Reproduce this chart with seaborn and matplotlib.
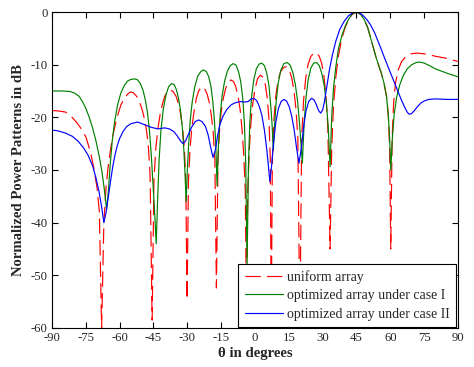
import numpy as np
import pandas as pd
import matplotlib
matplotlib.use("Agg")
import matplotlib.pyplot as plt
import seaborn as sns

# values (theta in degrees, pattern in dB)
uniform_theta = [-90, -87, -84, -81.5, -79, -77, -75, -73, -71.5, -70, -69, -68, -67, -66, -65, -64, -63,
                 -62, -61, -59.5, -58, -56.5, -55.3, -54, -52.5, -51, -50, -49, -48, -47.2, -46.5, -45.6,
                 -44.8, -44, -43, -42, -41, -40, -39, -37.6, -36.3, -35, -34, -33, -32, -31.3, -30.7,
                 -30.1, -29.5, -28.8, -28, -27, -26, -25, -23.7, -22.4, -21.2, -20.2, -19.3, -18.5,
                 -17.8, -17.1, -16.4, -15.7, -15, -14, -13, -12, -10.7, -9.5, -8.5, -7.5, -6.6, -5.8,
                 -5, -4.3, -3.8, -3.2, -2.5, -1.8, -1, 0, 1.2, 2.4, 3.6, 4.6, 5.5, 6.2, 6.8, 7.2, 7.7,
                 8.3, 9.2, 10.3, 11.5, 12.8, 14.0, 15.2, 16.3, 17.3, 18.2, 19.0, 19.9, 20.7, 21.5, 22.5,
                 23.5, 24.7, 26, 27.3, 28.5, 29.6, 30.6, 31.5, 32.3, 33.3, 34, 34.8, 35.8, 37, 38.5, 40,
                 41.5, 43, 45, 47, 48.5, 50, 51.3, 52.6, 53.8, 55, 56, 57.2, 58.3, 59.1, 59.7, 60.2,
                 60.8, 61.5, 62.3, 63.5, 65, 67, 69.5, 72, 76, 80, 85, 90]
uniform_db = [-18.7, -18.8, -19.0, -19.8, -21.0, -22.2, -23.7, -26.5, -29.5, -33.5, -38, -60, -40, -33, -29, -26, -23.5,
              -21.5, -19.8, -17.7, -16.4, -15.6, -15.2, -15.3, -16.0, -17.3, -18.6, -20.3, -22.8, -26, -31, -58.5,
              -32, -26, -22, -19.3, -17.4, -16.0, -15.2, -14.8, -15.1, -16.0, -17.3, -19.3, -22.5, -26, -32,
              -54.6, -32, -26, -22, -18.8, -16.4, -15.0, -14.2, -14.5, -15.6, -17.3, -19.8, -23,
              -28, -52.4, -28, -22.5, -19, -16.3, -14.5, -13.5, -12.9, -13.2, -14.2, -16, -18.5, -22,
              -27, -34, -58, -34, -26, -21, -17.5, -14.6, -12.6, -12.0, -12.4, -13.8, -16.5, -20.5, -28, -60, -28,
              -21, -16, -12.8, -11.2, -10.5, -10.4, -11.0, -12.5, -15, -18.5, -24, -60, -24, -17, -12.5,
              -10, -8.5, -7.8, -7.8, -8.4, -9.8, -12.3, -16, -22, -45, -26, -18, -12.5, -8.3, -5.0, -2.9,
              -1.5, -0.5, 0, -0.5, -1.5, -3, -5, -7, -8.8, -10.3, -11.6, -13.5, -16, -19.5, -26, -45,
              -24, -17, -13.5, -11, -9.4, -8.4, -7.9, -7.8, -8.0, -8.4, -8.8, -9.4]

case1_theta = [-90, -85, -82, -80, -78, -76.5, -75, -73.5, -72, -70.5, -69, -67.8, -66.7, -65.8, -65, -64.2,
               -63.3, -62.3, -61, -59.5, -58, -56.5, -55, -53.3, -52, -50.8, -49.7, -48.7, -47.7, -46.8,
               -46, -45.2, -44.5, -43.8, -43.2, -42.5, -41.7, -40.7, -39.5, -38.3, -37, -35.8, -34.8,
               -33.8, -33, -32.2, -31.5, -31, -30.5, -30, -29.4, -28.7, -27.8, -26.7, -25.4, -24, -22.8,
               -21.6, -20.5, -19.5, -18.7, -18, -17.4, -16.8, -16.2, -15.5, -14.6, -13.5, -12.3, -11,
               -9.7, -8.4, -7.3, -6.3, -5.4, -4.7, -4.1, -3.5, -2.9, -2.3, -1.5, -0.5, 0.6, 1.8, 3, 4.2,
               5.2, 6.2, 7, 7.6, 8.1, 8.7, 9.4, 10.3, 11.4, 12.8, 14.3, 15.6, 16.8, 17.9, 18.9, 19.8, 21,
               21.8, 22.6, 23.6, 24.8, 26, 27.3, 28.5, 29.6, 30.7, 31.7, 32.5, 33.3, 34, 34.8, 35.8, 37,
               38.5, 40, 41.5, 43, 45, 47, 48.5, 50, 51.3, 52.6, 53.8, 55, 56, 57.2, 58.3, 59.1, 59.7,
               60.2, 60.9, 61.7, 62.8, 64.2, 65.8, 67.5, 69.5, 71.5, 73, 75, 77.5, 80, 85, 90]
case1_db = [-15.0, -15.0, -15.1, -15.4, -16.0, -17.0, -18.3, -20, -22, -24.5, -27.5, -30.5, -34, -37.5, -34, -29,
            -24.5, -21, -17.8, -15.4, -14, -13.1, -12.8, -12.7, -12.9, -13.6, -14.8, -16.5, -19, -22.5,
            -27, -33, -38, -44, -36, -28, -22.5, -18.6, -15.8, -14.2, -13.6, -13.8, -14.8,
            -16.6, -18.8, -22, -26.5, -31, -36, -30, -25, -20.5, -17, -14.2, -12.2, -11.3, -11.0,
            -11.3, -12.3, -14.2, -17, -20.5, -25, -33, -25, -20, -16, -13.2, -11.3, -10.2,
            -9.8, -10.1, -11.3, -13.3, -16.5, -21, -29, -48, -29, -21, -16, -12.8, -10.8, -9.9, -9.7, -10.2,
            -11.6, -14, -17.8, -21.5, -26.2, -21.5, -17, -13.5, -11.1, -9.8, -9.6, -10.1, -11.5, -13.8, -17, -21.5, -28.7,
            -21, -16.3, -12.8, -10.6, -9.7, -9.6, -10.2, -11.6, -14, -17.5, -22, -29.4, -20, -14.5, -10.5, -7,
            -4.5, -2.7, -1.4, -0.4, 0, -0.5, -1.5, -3, -5, -7, -8.8, -10.3, -11.6, -13.5, -16, -19.5, -24,
            -30, -24, -19.5, -16.2, -13.8, -12, -10.8, -10, -9.6, -9.5, -9.7, -10.2, -10.8, -11.6, -12.3]

case2_theta = [-90, -87, -84, -81, -78.5, -76, -74, -72, -70.5, -69.2, -68, -67, -66, -65, -64, -63, -62,
               -61, -60, -58.5, -57, -55, -52, -49, -46, -43, -40, -38, -36, -34.5, -33, -31.9, -30.8,
               -29.5, -28, -26.5, -25, -23.5, -22, -20.8, -19.6, -18.6, -17.6, -16.6, -15.5, -14.2, -12.5,
               -10.5, -8.5, -6.4, -4.5, -3, -1.7, -0.5, 0.7, 1.8, 3, 4.2, 5.2, 6, 6.6, 7.3, 8.2, 9.2,
               10.4, 11.6, 12.8, 14, 15.2, 16.3, 17.4, 18.5, 19.5, 20.5, 21.5, 22.6, 23.8, 25.1, 26.2,
               27.2, 28.2, 29.1, 30, 30.8, 31.8, 33, 34.3, 35.8, 37.5, 39.5, 41.5, 43.5, 45, 46.5, 48,
               49.7, 51.3, 53, 54.5, 56, 57.5, 59, 60.5, 62, 63.5, 65, 66.5, 67.6, 68.4, 69.4, 70.5, 72,
               73.5, 75, 77, 80, 85, 90]
case2_db = [-22.4, -22.6, -23.0, -23.6, -24.5, -25.8, -27.2, -29.2, -31.5, -34, -37, -40, -38, -35, -32, -29.2, -27,
            -25.3, -24, -22.7, -21.8, -21.2, -20.9, -21.4, -21.9, -22.2, -22.0, -22.2, -22.7, -23.5, -24.5, -25, -24.5,
            -23.2, -21.8, -20.8, -20.5, -20.8, -21.7, -23.3, -25.8, -27.6, -26.3, -23.5, -21.3, -19.8, -18.5,
            -17.6, -17.2, -17.0, -17.1, -17.0, -16.5, -16.4, -16.8, -17.8, -19.5, -22.5, -26, -29.5, -32.2, -29.5, -25, -21,
            -18.3, -17, -16.6, -16.9, -18, -19.8, -22.5, -26, -28.7, -26, -22, -18.8, -17, -16.4, -16.7,
            -17.6, -18.7, -19.2, -18.6, -17, -14.3, -11, -8.2, -5.6, -3.4, -1.8, -0.7, -0.1, 0, -0.2, -0.7,
            -1.5, -2.5, -3.9, -5.5, -7.1, -8.8, -10.4, -12, -13.6, -15.2, -16.8, -18.2, -19.1, -19.4, -19.3, -18.8, -18,
            -17.3, -16.9, -16.6, -16.5, -16.6, -16.6]

labels = ["uniform array", "optimized array under case I", "optimized array under case II"]
x_ticks = list(range(-90, 91, 15))
y_ticks = list(range(-60, 1, 10))

sns.set_theme(style="ticks")
plt.rcParams["font.family"] = ["Liberation Serif", "DejaVu Serif"]
plt.rcParams["axes.unicode_minus"] = False
plt.rcParams["lines.scale_dashes"] = False
plt.rcParams["xtick.direction"] = "in"
plt.rcParams["ytick.direction"] = "in"

fig = plt.figure(figsize=(4.74, 3.67), dpi=100)
ax = fig.add_axes([0.1097, 0.1063, 0.8565, 0.861])

sns.lineplot(x=uniform_theta, y=uniform_db, ax=ax, color="#ff0000", linewidth=0.85,
             linestyle=(0, (11, 4.5)), label=labels[0])
sns.lineplot(x=case1_theta, y=case1_db, ax=ax, color="#008000", linewidth=0.85, label=labels[1])
sns.lineplot(x=case2_theta, y=case2_db, ax=ax, color="#0000ff", linewidth=0.85, label=labels[2])

ax.set_xlim(-90, 90)
ax.set_ylim(-60, 0)
ax.set_xticks(x_ticks)
ax.set_yticks(y_ticks)
ax.tick_params(axis="both", labelsize=9.2, length=4, width=0.8, color="black",
               top=True, right=True, pad=3)
for s in ax.spines.values():
    s.set_color("black")
    s.set_linewidth(0.8)
    s.set_visible(True)

ax.set_xlabel("θ in degrees", fontsize=10.6, fontweight="bold", labelpad=2)
ax.set_ylabel("Normalized Power Patterns in dB", fontsize=10.6, fontweight="bold", labelpad=4)

leg = ax.legend(loc="lower right", bbox_to_anchor=(0.995, 0.003), fontsize=10, frameon=True,
                fancybox=False, framealpha=1, edgecolor="black", handlelength=2.75,
                handletextpad=0.3, borderpad=0.45, labelspacing=0.4, borderaxespad=0)
leg.get_frame().set_linewidth(0.8)

fig.savefig("out.png", dpi=100)
